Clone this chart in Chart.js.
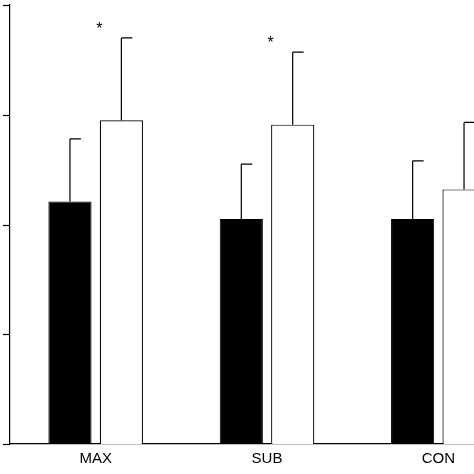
<!DOCTYPE html><html><head><script src="https://cdn.jsdelivr.net/npm/chart.js@4"></script>
<style>html,body{margin:0;padding:0;overflow:hidden;background:#fff}#w{width:524px;height:474px}</style></head><body><div id="w"><canvas id="c"></canvas></div>
<script>
const categories=["MAX","SUB","CON"];
const blackVals=[2.21,2.05,2.05];
const blackErr=[0.57,0.50,0.53];
const whiteVals=[2.95,2.91,2.32];
const whiteErr=[0.75,0.66,0.61];
const marks=["*","*",""];
const errPlugin={id:'err',afterDatasetsDraw(ch){const c=ch.ctx,y=ch.scales.y;c.save();c.strokeStyle='#000';c.lineWidth=1.2;
y.ticks.forEach(t=>{const p=Math.round(y.getPixelForValue(t.value))+0.5;c.beginPath();c.moveTo(y.right-7,p);c.lineTo(y.right,p);c.stroke();});
[[0,blackErr],[1,whiteErr]].forEach(([di,e])=>{ch.getDatasetMeta(di).data.forEach((b,i)=>{const v=ch.data.datasets[di].data[i];const yt=y.getPixelForValue(v+e[i]),yb=y.getPixelForValue(v);const x=b.x;c.beginPath();c.moveTo(x,yb);c.lineTo(x,yt);c.moveTo(x,yt);c.lineTo(x+11,yt);c.stroke();
if(di===1&&marks[i]){c.fillStyle='#000';c.font='16px Arial';c.textAlign='center';c.fillText(marks[i],x-22,yt-4);}});});c.restore();}};
new Chart(document.getElementById('c'),{type:'bar',data:{labels:categories,datasets:[
{data:blackVals,backgroundColor:'#000',borderColor:'#000',borderWidth:1},
{data:whiteVals,backgroundColor:'#fff',borderColor:'#000',borderWidth:1.2}]},
options:{animation:false,responsive:true,maintainAspectRatio:false,devicePixelRatio:1,
layout:{padding:{left:0,top:5,right:0,bottom:0}},
plugins:{legend:{display:false},tooltip:{enabled:false}},
datasets:{bar:{categoryPercentage:0.6,barPercentage:0.84}},
scales:{x:{grid:{display:false,drawTicks:false},border:{color:'#000',width:1.2},ticks:{color:'#000',font:{size:15,family:'Arial'},padding:6}},
y:{min:0,max:4,afterFit(s){s.width=10},grid:{display:false,drawTicks:false},border:{color:'#000',width:1.2},ticks:{stepSize:1,display:true,color:'rgba(0,0,0,0)',font:{size:1}}}}},
plugins:[errPlugin]});
</script></body></html>
